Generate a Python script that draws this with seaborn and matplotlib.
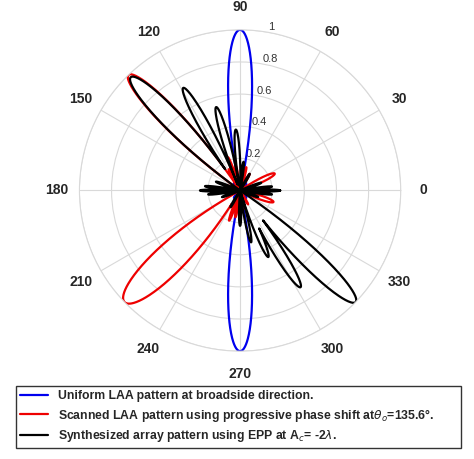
import numpy as np
import matplotlib
matplotlib.use("Agg")
import matplotlib.pyplot as plt
import seaborn as sns

sns.set_style("white")
plt.rcParams['font.family'] = ['Liberation Sans', 'DejaVu Sans']

# lobes: (centre angle deg, peak value, half width deg)
blue_lobes = [(90, 1.0, 12), (270, 1.0, 12), (76, 0.12, 4), (104, 0.12, 4), (256, 0.12, 4), (284, 0.12, 4),
              (66, 0.08, 5), (114, 0.08, 5), (246, 0.08, 5), (294, 0.08, 5), (20, 0.05, 6), (160, 0.05, 6),
              (200, 0.05, 6), (340, 0.05, 6), (50, 0.06, 6), (130, 0.06, 6), (230, 0.06, 6), (310, 0.06, 6)]
red_lobes = [(134, 1.0, 10), (224, 1.0, 15), (26, 0.24, 9), (341, 0.22, 9), (110, 0.22, 5), (100, 0.16, 5),
             (118, 0.15, 5), (250, 0.2, 5), (260, 0.17, 5), (240, 0.12, 5), (285, 0.12, 5), (300, 0.1, 5),
             (60, 0.12, 5), (75, 0.15, 5), (160, 0.1, 5), (195, 0.08, 5), (5, 0.08, 5)]
black_lobes = [(134, 0.98, 10), (119, 0.73, 7), (106, 0.54, 6.5), (94, 0.38, 6), (83, 0.18, 5),
               (316, 1.0, 10), (302, 0.71, 7), (293, 0.45, 6), (282, 0.33, 5), (270, 0.22, 5),
               (180, 0.25, 4), (173, 0.22, 4), (187, 0.2, 4), (0, 0.25, 4), (7, 0.2, 4), (353, 0.2, 4),
               (160, 0.16, 5), (200, 0.12, 5), (20, 0.14, 5), (340, 0.12, 5), (60, 0.12, 5), (240, 0.12, 5)]


def pattern(lobes, th):
    r = np.zeros_like(th)
    for c, p, hw in lobes:
        d = (th - c + 180) % 360 - 180
        m = np.abs(d) < hw
        r[m] = np.maximum(r[m], p * np.cos(np.pi / 2 * d[m] / hw))
    return r


theta = np.linspace(0, 360, 3601)

fig = plt.figure(figsize=(4.74, 4.59), dpi=100)
ax = fig.add_axes([0.167, 0.235, 0.679, 0.70], projection='polar')
ax.plot(np.radians(theta), pattern(blue_lobes, theta), color='#0000ee', lw=1.6,
        label='Uniform LAA pattern at broadside direction.')
ax.plot(np.radians(theta), pattern(red_lobes, theta), color='#ee0000', lw=1.6,
        label=r'Scanned LAA pattern using progressive phase shift at$\theta_o$=135.6°.')
ax.plot(np.radians(theta), pattern(black_lobes, theta), color='black', lw=1.6,
        label=r'Synthesized array pattern using EPP at A$_c$= -2$\lambda$.')

ax.set_ylim(0, 1)
ax.set_rticks([0.2, 0.4, 0.6, 0.8, 1.0])
ax.set_yticklabels(['0.2', '0.4', '0.6', '0.8', '1'], fontsize=8, color='#333333')
ax.set_rlabel_position(80)
ax.set_thetagrids(range(0, 360, 30), [str(a) for a in range(0, 360, 30)], fontsize=10, fontweight='bold')
ax.tick_params(axis='x', pad=6)
ax.grid(color='#d9d9d9', lw=0.8)
ax.spines['polar'].set_color('#d9d9d9')

leg = fig.legend(loc='lower left', bbox_to_anchor=(0.02, 0.01, 0.965, 0.17), mode='expand', ncol=1,
                 frameon=True, edgecolor='black', fancybox=False, handlelength=2.3, borderpad=0.35,
                 labelspacing=0.35, prop={'weight': 'bold', 'size': 8.8})
leg.get_frame().set_linewidth(1.0)
fig.savefig('out.png', dpi=100)
